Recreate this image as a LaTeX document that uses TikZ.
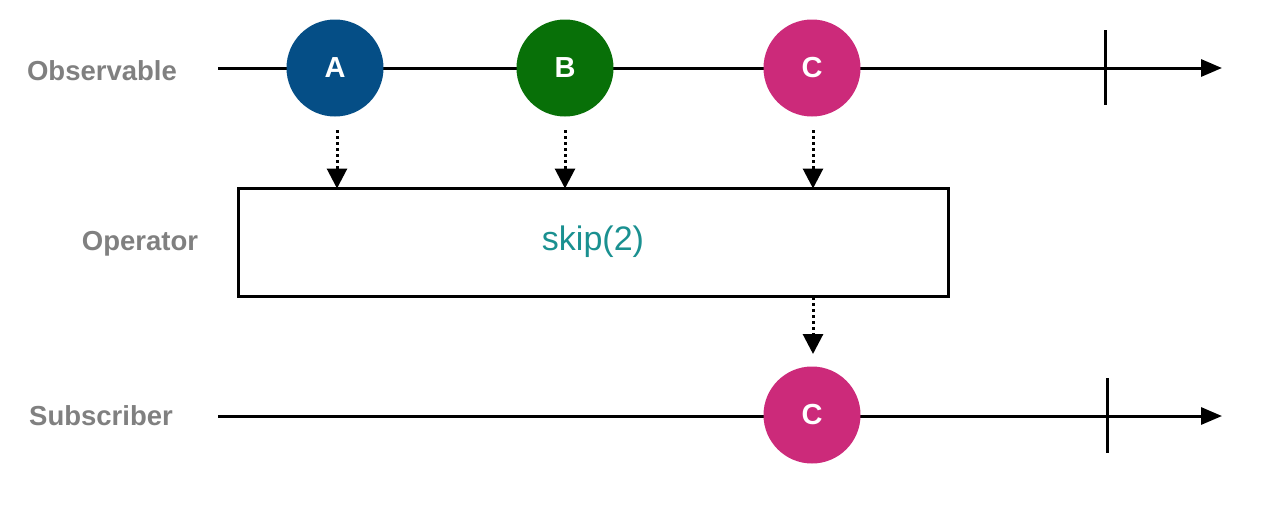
\documentclass[tikz,border=0pt]{standalone}
\usepackage{fontspec}
\setmainfont{Liberation Sans}
\usetikzlibrary{arrows.meta}
\definecolor{cA}{HTML}{054E86}
\definecolor{cB}{HTML}{087008}
\definecolor{cC}{HTML}{CC2A7A}
\definecolor{lab}{HTML}{808080}
\definecolor{op}{HTML}{1A9090}
\begin{document}
\begin{tikzpicture}[x=1pt,y=-1pt,
  lbl/.style={text=lab,font=\fontsize{27.5}{30}\selectfont\bfseries},
  ball/.style={circle,minimum size=97pt,inner sep=0,text=white,font=\fontsize{29}{32}\selectfont\bfseries},
  tl/.style={line width=3pt,-{Triangle[length=21pt,width=17pt]}},
  tick/.style={line width=3pt},
  drop/.style={line width=3pt,dash pattern=on 3pt off 3pt,-{Triangle[length=20pt,width=20pt]}}]
\useasboundingbox (0,0) rectangle (1274,522);
\node[lbl] (lo) at (102,71) {Observable};
\node[lbl] (lop) at (140,244) {Operator};
\node[lbl] (ls) at (101,416) {Subscriber};
\coordinate (o1) at (218,68); \coordinate (o2) at (1222,68);
\draw[tl] (o1) -- (o2);
\coordinate (t1) at (1105,30); \coordinate (t2) at (1105,105);
\draw[tick] (t1) -- (t2);
\node[ball,fill=cA] (A) at (335,68) {A};
\node[ball,fill=cB] (B) at (565,68) {B};
\node[ball,fill=cC] (C) at (812,68) {C};
\node[draw,line width=3pt,minimum width=710pt,minimum height=108pt,inner sep=0,text=op,font=\fontsize{34}{38}\selectfont] (box) at (593,242) {skip(2)};
\coordinate (a1) at (337,130); \coordinate (a2) at (565,130); \coordinate (a3) at (813,130);
\draw[drop] (a1) -- (337,188.5);
\draw[drop] (a2) -- (565,188.5);
\draw[drop] (a3) -- (813,188.5);
\coordinate (a4) at (813,297);
\draw[drop] (a4) -- (813,354);
\coordinate (s1) at (218,416); \coordinate (s2) at (1222,416);
\draw[tl] (s1) -- (s2);
\coordinate (u1) at (1107,378); \coordinate (u2) at (1107,453);
\draw[tick] (u1) -- (u2);
\node[ball,fill=cC] (C2) at (812,415) {C};
\end{tikzpicture}
\end{document}
